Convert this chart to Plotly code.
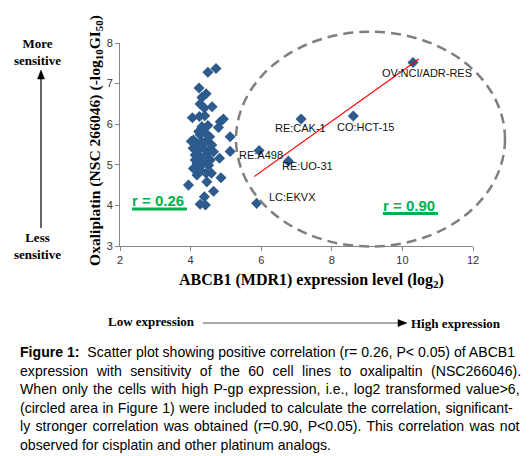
import numpy as np
import plotly.graph_objects as go

# ABCB1 expression (log2) vs oxaliplatin -log10 GI50, low-expression cluster
low_x = [4.49, 4.72, 4.24, 4.44, 4.32, 4.27, 4.39, 4.61, 4.05, 4.25,
         4.40, 4.84, 4.93, 4.49, 4.79, 5.12, 5.12, 4.08, 4.27, 4.42,
         4.54, 4.18, 4.32, 4.46, 4.07, 4.23, 4.37, 4.51, 4.13, 4.27,
         4.44, 4.56, 4.18, 4.37, 4.08, 4.27, 4.82, 4.18, 4.44, 4.59,
         4.86, 4.46, 3.94, 4.65, 4.39, 4.27, 4.42, 4.23, 4.60, 4.51,
         4.13, 4.65, 4.32, 4.02]
low_y = [7.28, 7.37, 6.89, 6.75, 6.66, 6.50, 6.40, 6.43, 6.16, 6.19,
         6.21, 6.06, 6.13, 5.97, 5.92, 5.69, 5.33, 5.61, 5.74, 5.78,
         5.69, 5.53, 5.56, 5.59, 5.41, 5.37, 5.41, 5.32, 5.24, 5.20,
         5.24, 5.12, 5.04, 5.04, 4.91, 4.87, 5.16, 4.75, 4.79, 4.79,
         4.68, 4.58, 4.50, 4.35, 4.21, 4.03, 4.01, 5.82, 5.49, 4.99,
         5.12, 5.32, 5.94, 5.58]

# high P-gp cell lines (circled)
high_names = ['OV:NCI/ADR-RES', 'RE:CAK-1', 'CO:HCT-15', 'RE:A498', 'RE:UO-31', 'LC:EKVX']
high_x = [10.30, 7.13, 8.61, 5.94, 6.77, 5.87]
high_y = [7.52, 6.13, 6.20, 5.35, 5.09, 4.05]
# label offsets (pixels) from each point
label_dx = [14, -1, 12, 2, 19, 36]
label_dy = [-11, -9, -11, -4, -5, 6]

x_ticks = [2, 4, 6, 8, 10, 12]
y_ticks = [3, 4, 5, 6, 7, 8]

caption = [
    '<b>Figure 1:</b>  Scatter plot showing positive correlation (r= 0.26, P< 0.05) of ABCB1',
    'expression with sensitivity of the 60 cell lines to oxalipaltin (NSC266046).',
    'When only the cells with high P-gp expression, i.e., log2 transformed value>6,',
    '(circled area in Figure 1) were included to calculate the correlation, significant-',
    'ly stronger correlation was obtained (r=0.90, P<0.05). This correlation was not',
    'observed for cisplatin and other platinum analogs.',
]
# extra word spacing (px) to mimic the justified paragraph
caption_spacing = [0, 4.6, 1.3, 0.5, 1.4, 0]

W_FIG, H_FIG = 531, 456
L, R, T, B = 120, 58, 43, 210
W = W_FIG - L - R
H = H_FIG - T - B

SERIF = 'Liberation Serif'
SANS = 'Liberation Sans'
BLUE = '#2D5B8E'
GREEN = '#00B050'


def px(x):
    return (x - L) / W


def py(y):
    return (T + H - y) / H


def label(x, y, text, size, family=SANS, color='black', **kw):
    d = dict(x=px(x), y=py(y), xref='paper', yref='paper', text=text, showarrow=False,
             xanchor='center', yanchor='middle', font=dict(family=family, size=size, color=color))
    d.update(kw)
    return d


def arrow_head(x, y, direction, color):
    # small filled triangle, tip at (x, y) in pixels
    if direction == 'up':
        pts = [(x, y), (x - 3.5, y + 9), (x + 3.5, y + 9)]
    else:
        pts = [(x, y), (x - 9, y - 3.5), (x - 9, y + 3.5)]
    path = 'M ' + ' L '.join(f'{px(a):.5f} {py(b):.5f}' for a, b in pts) + ' Z'
    return dict(type='path', xref='paper', yref='paper', path=path,
                fillcolor=color, line=dict(color=color, width=0.5))


# regression for the circled cells
slope, icpt = np.polyfit(high_x, high_y, 1)
fit_x = np.array([5.8, 10.47])
fit_y = slope * fit_x + icpt

fig = go.Figure()
fig.add_trace(go.Scatter(
    x=low_x + high_x, y=low_y + high_y, mode='markers',
    marker=dict(symbol='diamond', size=8.5, color=BLUE, line_width=0),
    showlegend=False, hoverinfo='skip'))
fig.add_trace(go.Scatter(
    x=fit_x, y=fit_y, mode='lines', line=dict(color='red', width=1.2),
    showlegend=False, hoverinfo='skip'))

ann = []
for name, x, y, dx, dy in zip(high_names, high_x, high_y, label_dx, label_dy):
    ann.append(dict(x=x, y=y, xref='x', yref='y', text=name, showarrow=False,
                    xanchor='center', yanchor='middle', xshift=dx, yshift=dy,
                    font=dict(family=SANS, size=11, color='#111111')))

# r values
ann.append(label(158, 200, '<b>r = 0.26</b>', 15, color=GREEN))
ann.append(label(409, 205, '<b>r = 0.90</b>', 15, color=GREEN))

# axis titles
ann.append(label(95, 141, '<b>Oxaliplatin (NSC 266046) (-log<sub>10</sub>GI<sub>50</sub>)</b>',
                 15.6, family=SERIF, textangle=-90))
ann.append(label(311, 280, '<b>ABCB1 (MDR1) expression level (log<sub>2</sub>)</b>', 16, family=SERIF))

# sensitivity / expression labels
ann.append(label(37, 52, '<b>More<br>sensitive</b>', 13, family=SERIF))
ann.append(label(37, 246, '<b>Less<br>sensitive</b>', 13, family=SERIF))
ann.append(label(151, 321, '<b>Low expression</b>', 13, family=SERIF))
ann.append(label(456, 323, '<b>High expression</b>', 13, family=SERIF))

# caption
cap_y = [352, 370.5, 389, 407.5, 426, 444.5]
for line, sp, yy in zip(caption, caption_spacing, cap_y):
    txt = f'<span style="word-spacing:{sp}px">{line}</span>' if sp else line
    ann.append(label(18, yy, txt, 14.1, xanchor='left'))

shapes = [
    dict(type='circle', xref='paper', yref='paper',
         x0=px(236), x1=px(505), y0=py(246.5), y1=py(31.7),
         line=dict(color='#7F7F7F', width=2.5, dash='10px,6px')),
    dict(type='line', xref='paper', yref='paper', x0=px(132), x1=px(187), y0=py(209), y1=py(209),
         line=dict(color=GREEN, width=3)),
    dict(type='line', xref='paper', yref='paper', x0=px(383), x1=px(438), y0=py(213.5), y1=py(213.5),
         line=dict(color=GREEN, width=3)),
    # vertical sensitivity arrow
    dict(type='line', xref='paper', yref='paper', x0=px(41), x1=px(41), y0=py(228), y1=py(76),
         line=dict(color='black', width=1.2)),
    arrow_head(41, 70, 'up', 'black'),
    # horizontal expression arrow
    dict(type='line', xref='paper', yref='paper', x0=px(203), x1=px(400), y0=py(323), y1=py(323),
         line=dict(color='#555555', width=1.2)),
    arrow_head(407, 323, 'right', 'black'),
]

fig.update_layout(
    width=W_FIG, height=H_FIG, autosize=False,
    margin=dict(l=L, r=R, t=T, b=B),
    paper_bgcolor='white', plot_bgcolor='white',
    annotations=ann, shapes=shapes,
    xaxis=dict(range=[2, 12], tickvals=x_ticks, showgrid=False, zeroline=False,
               showline=True, linecolor='#868686', linewidth=1, ticks='outside',
               ticklen=4, tickcolor='#868686',
               tickfont=dict(family=SANS, size=11, color='#333333')),
    yaxis=dict(range=[3, 8], tickvals=y_ticks, showgrid=False, zeroline=False,
               showline=True, linecolor='#868686', linewidth=1, ticks='outside',
               ticklen=4, tickcolor='#868686', showticklabels=True,
               ticklabeloverflow='allow',
               tickfont=dict(family=SANS, size=11, color='#333333')),
)

fig.write_html('out.html', config={'displayModeBar': False},
               post_script="document.body.style.margin='0px';")
